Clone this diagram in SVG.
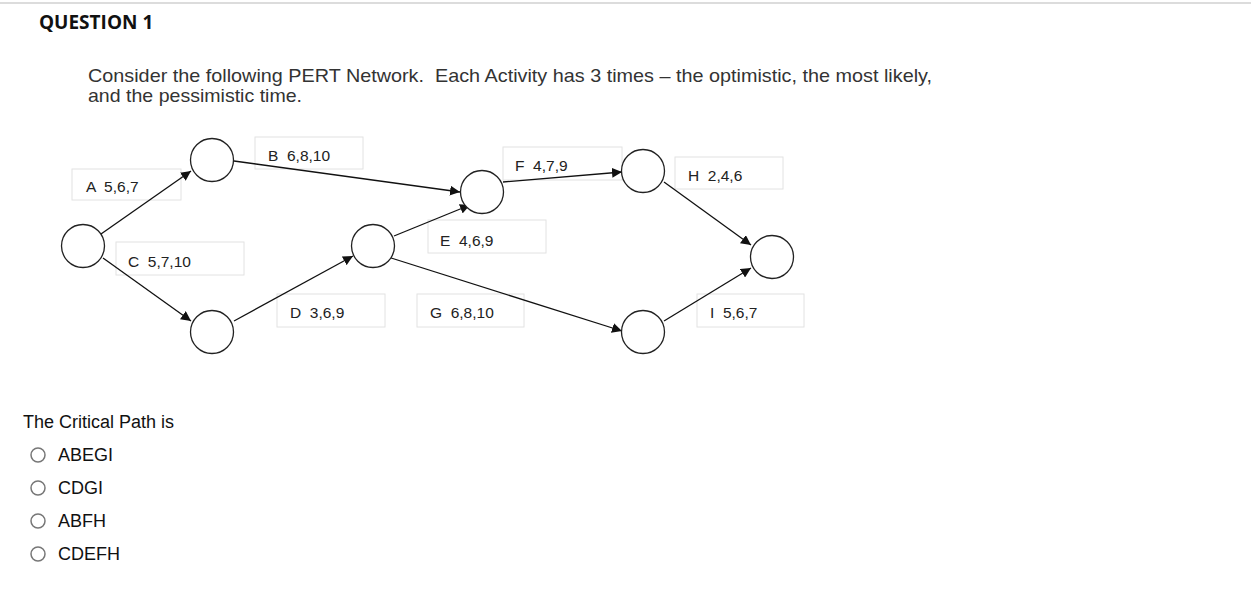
<svg xmlns="http://www.w3.org/2000/svg" width="1251" height="606" viewBox="0 0 1251 606">
<style>
.node{fill:#fff;stroke:#222;stroke-width:1.3}
.edge{stroke:#111;stroke-width:1.3;fill:none;marker-end:url(#arr)}
.lbox{fill:#fff;stroke:#e2e2e2;stroke-width:1}
.lt{font-family:"Liberation Sans",Arial,sans-serif;font-size:15.5px;fill:#222;white-space:pre}
.body{font-family:"Liberation Sans",Arial,sans-serif;font-size:19px;fill:#333;white-space:pre}
.q{font-family:"Open Sans","Liberation Sans",sans-serif;font-size:19px;font-weight:bold;fill:#111}
.opt{font-family:"Liberation Sans",Arial,sans-serif;font-size:18px;fill:#111}
.radio{fill:#fff;stroke:#777;stroke-width:1.5}
</style>
<defs>
<marker id="arr" viewBox="0 0 10 10" refX="10" refY="5" markerWidth="10" markerHeight="10" markerUnits="userSpaceOnUse" orient="auto">
<path d="M0,0 L10,5 L0,10 Z" fill="#111"/>
</marker>
</defs>
<rect width="1251" height="606" fill="#fff"/>
<line x1="0" y1="3" x2="1251" y2="3" stroke="#d0d0d0" stroke-width="1.5"/>
<text class="q" x="39" y="29">QUESTION 1</text>
<text class="body" x="88" y="82" textLength="844" lengthAdjust="spacingAndGlyphs" xml:space="preserve">Consider the following PERT Network.  Each Activity has 3 times – the optimistic, the most likely,</text>
<text class="body" x="88" y="102" textLength="214" lengthAdjust="spacingAndGlyphs">and the pessimistic time.</text>

<g id="labels">
<rect class="lbox" x="72" y="169" width="109" height="31"/>
<text class="lt" x="86" y="192" xml:space="preserve">A  5,6,7</text>
<rect class="lbox" x="255" y="137" width="108" height="32"/>
<text class="lt" x="268" y="161" xml:space="preserve">B  6,8,10</text>
<rect class="lbox" x="116" y="242" width="128" height="33"/>
<text class="lt" x="128" y="267" xml:space="preserve">C  5,7,10</text>
<rect class="lbox" x="277" y="294" width="108" height="33"/>
<text class="lt" x="290" y="318" xml:space="preserve">D  3,6,9</text>
<rect class="lbox" x="428" y="220" width="118" height="33"/>
<text class="lt" x="440" y="246" xml:space="preserve">E  4,6,9</text>
<rect class="lbox" x="503" y="147" width="119" height="33"/>
<text class="lt" x="515" y="171" xml:space="preserve">F  4,7,9</text>
<rect class="lbox" x="417" y="294" width="107" height="33"/>
<text class="lt" x="430" y="318" xml:space="preserve">G  6,8,10</text>
<rect class="lbox" x="675" y="157" width="108" height="32"/>
<text class="lt" x="688" y="181" xml:space="preserve">H  2,4,6</text>
<rect class="lbox" x="697" y="294" width="107" height="33"/>
<text class="lt" x="710" y="318" xml:space="preserve">I  5,6,7</text>
</g>

<g id="connectors">
<line class="edge" x1="101" y1="234" x2="191" y2="171"/>
<line class="edge" x1="103" y1="258" x2="191" y2="321"/>
<line class="edge" x1="234" y1="161" x2="460" y2="192"/>
<line class="edge" x1="234" y1="321" x2="353" y2="256"/>
<line class="edge" x1="394" y1="236" x2="470" y2="205"/>
<line class="edge" x1="503" y1="182" x2="622" y2="172"/>
<line class="edge" x1="388" y1="257" x2="622" y2="331"/>
<line class="edge" x1="664" y1="182" x2="751" y2="245"/>
<line class="edge" x1="664" y1="321" x2="751" y2="268"/>
</g>

<g id="n1"><circle class="node" cx="83" cy="246" r="21.5"/></g>
<g id="n2"><circle class="node" cx="212" cy="160" r="21.5"/></g>
<g id="n3"><circle class="node" cx="212" cy="332" r="21.5"/></g>
<g id="n4"><circle class="node" cx="373" cy="246" r="21.5"/></g>
<g id="n5"><circle class="node" cx="482" cy="192" r="21.5"/></g>
<g id="n6"><circle class="node" cx="643" cy="171" r="21.5"/></g>
<g id="n7"><circle class="node" cx="643" cy="332" r="21.5"/></g>
<g id="n8"><circle class="node" cx="772" cy="257" r="21.5"/></g>

<text class="opt" x="23" y="428">The Critical Path is</text>
<circle class="radio" cx="38" cy="455" r="7"/>
<text class="opt" x="58" y="461">ABEGI</text>
<circle class="radio" cx="38" cy="488" r="7"/>
<text class="opt" x="58" y="494">CDGI</text>
<circle class="radio" cx="38" cy="521" r="7"/>
<text class="opt" x="58" y="527">ABFH</text>
<circle class="radio" cx="38" cy="554" r="7"/>
<text class="opt" x="58" y="560">CDEFH</text>
</svg>
